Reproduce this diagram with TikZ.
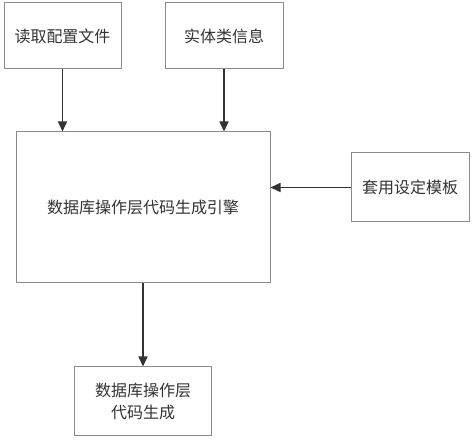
\documentclass[tikz,border=0pt]{standalone}
\usepackage{fontspec}
\newfontfamily\cjk{Noto Sans CJK SC}
\usetikzlibrary{arrows.meta}
\usetikzlibrary{positioning}
\usetikzlibrary{calc}
\definecolor{boxline}{HTML}{8A8A8A}
\definecolor{arrline}{HTML}{333333}
\definecolor{txt}{HTML}{333333}

\begin{document}
\begin{tikzpicture}[x=1pt,y=1pt,>={Triangle[length=10pt,width=9pt]},
		semithick]
		\tikzstyle{every node}=[font=\cjk\fontsize{16}{22}\selectfont,text=txt]
		\tikzstyle{block}=[draw=boxline,line width=1pt,fill=white,inner sep=0pt,align=center]
		\tikzstyle{flow}=[->,draw=arrline,line width=1.6pt]
		
		\useasboundingbox (0,0) rectangle (474,441);
		
		\node[block,minimum width=254pt,minimum height=151pt] (Engine)   at (143,233.5) {数据库操作层代码生成引擎};
		\node[block,minimum width=117pt,minimum height=66pt]  (Config)   [above=62pt of Engine,xshift=-80.5pt] {读取配置文件};
		\node[block,minimum width=118pt,minimum height=66pt]  (Entity)   [above=62pt of Engine,xshift=81pt]    {实体类信息};
		\node[block,minimum width=118pt,minimum height=69pt]  (Template) [right=80pt of Engine,yshift=20pt]    {套用设定模板};
		\node[block,minimum width=137pt,minimum height=69pt]  (Output)   [below=83pt of Engine]                {数据库操作层\\代码生成};
		
		\draw[flow] (Config.south)  -- (Config.south |- Engine.north);
		\draw[flow] (Entity.south)  -- (Entity.south |- Engine.north);
		\draw[flow] (Template.west) -- (Template.west -| Engine.east);
		\draw[flow] (Engine.south)  -- (Output.north);
\end{tikzpicture}
\end{document}
